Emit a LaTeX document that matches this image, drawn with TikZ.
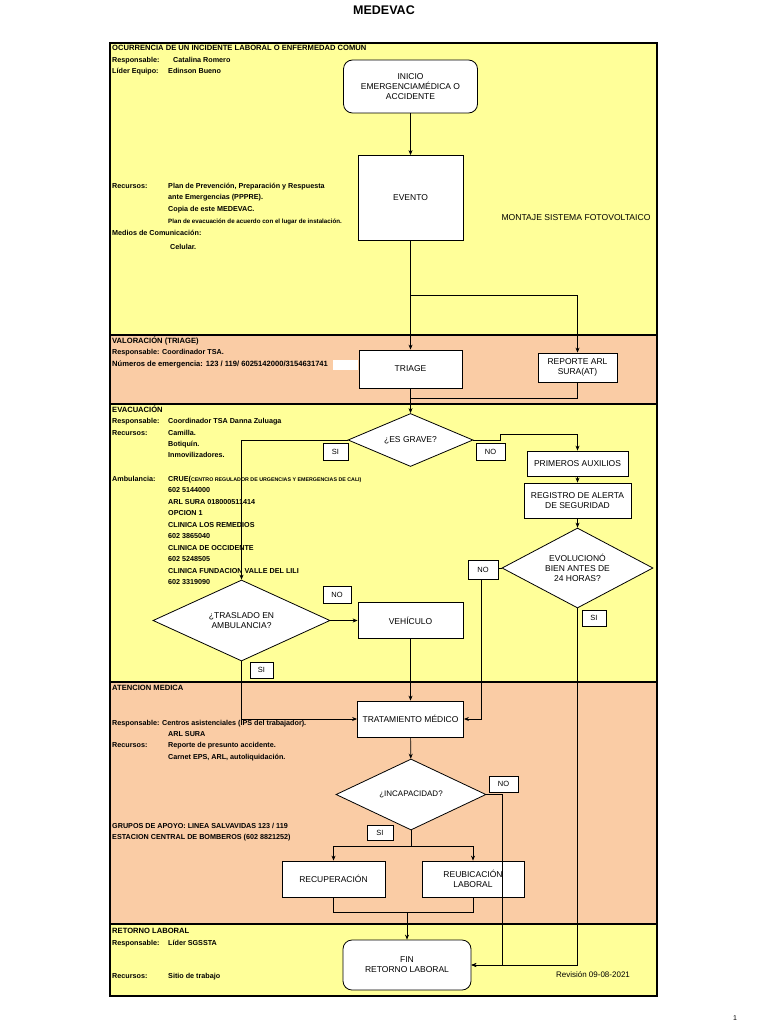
\documentclass[tikz,border=0pt]{standalone}
\usepackage{fontspec}
\setmainfont{Liberation Sans}
\usetikzlibrary{shapes.geometric,arrows.meta}
\definecolor{bandY}{RGB}{255,255,153}
\definecolor{bandO}{RGB}{250,204,165}
\begin{document}
\begin{tikzpicture}[x=1pt,y=-1pt,
  proc/.style={draw, line width=0.8pt, fill=white, align=center, inner sep=0pt,
    font=\fontsize{8.5}{10}\selectfont},
  term/.style={proc, rounded corners=9pt},
  dec/.style={draw, line width=0.8pt, fill=white, diamond, inner sep=0pt, align=center,
    font=\fontsize{8.5}{10}\selectfont},
  tag/.style={draw, line width=0.7pt, fill=white, inner sep=0pt,
    font=\fontsize{7.5}{9}\selectfont},
  txt/.style={anchor=base west, inner sep=0pt, font=\fontsize{7.2}{9}\selectfont\bfseries},
  head/.style={txt, font=\fontsize{7.6}{9}\selectfont\bfseries},
  small/.style={anchor=base west, inner sep=0pt, font=\fontsize{6.2}{8}\selectfont\bfseries},
  arr/.style={-{Stealth[length=5pt,width=4pt]}, line width=0.7pt},
  ln/.style={line width=0.7pt},
  band/.style={draw=black, line width=1.2pt}]
\useasboundingbox (0,0) rectangle (768,1024);
\fill[white] (0,0) rectangle (768,1024);
% bands
\fill[bandY] (110,43) rectangle (657,335);
\fill[bandO] (110,335) rectangle (657,404);
\fill[bandY] (110,404) rectangle (657,682);
\fill[bandO] (110,682) rectangle (657,924);
\fill[bandY] (110,924) rectangle (657,996);
\draw[band] (110,335) -- (657,335);
\draw[band] (110,404) -- (657,404);
\draw[band] (110,682) -- (657,682);
\draw[band] (110,924) -- (657,924);
\draw[line width=1.6pt] (110,43) rectangle (657,996);

\node[font=\fontsize{12.5}{14}\selectfont\bfseries] (title) at (384,10) {MEDEVAC};
\node[font=\fontsize{7}{8}\selectfont] (pageno) at (735,1018) {1};

% ---- section 1 text
\node[head] (h1) at (112,51) {OCURRENCIA DE UN INCIDENTE LABORAL O ENFERMEDAD COMÚN};
\node[txt] (r1a) at (112,62.5) {Responsable:};
\node[txt] (r1b) at (173,62.5) {Catalina Romero};
\node[txt] (l1a) at (112,73.5) {Líder Equipo:};
\node[txt] (l1b) at (168,73.5) {Edinson Bueno};
\node[txt] (rc1a) at (112,188.5) {Recursos:};
\node[txt] (rc1b) at (168,188.5) {Plan de Prevención, Preparación y Respuesta};
\node[txt] (rc1c) at (168,200) {ante Emergencias (PPPRE).};
\node[txt] (rc1d) at (168,212) {Copia de este MEDEVAC.};
\node[small] (rc1e) at (168,224) {Plan de evacuación de acuerdo con el lugar de instalación.};
\node[txt] (m1a) at (112,235.5) {Medios de Comunicación:};
\node[txt] (m1b) at (170,249.5) {Celular.};
\node[font=\fontsize{8.6}{10}\selectfont] (montaje) at (576,218) {MONTAJE SISTEMA FOTOVOLTAICO};

% ---- section 2 text
\node[head] (h2) at (112,343) {VALORACIÓN (TRIAGE)};
\node[txt] (r2a) at (112,354) {Responsable:};
\node[txt] (r2b) at (162,354) {Coordinador TSA.};
\node[txt, font=\fontsize{7.6}{9}\selectfont\bfseries] (n2) at (112,366) {Números de emergencia: 123 / 119/ 6025142000/3154631741};
\fill[white] (333,360) rectangle (358,370);

% ---- section 3 text
\node[head] (h3) at (112,412.5) {EVACUACIÓN};
\node[txt] (r3a) at (112,423.5) {Responsable:};
\node[txt] (r3b) at (168,423.5) {Coordinador TSA Danna Zuluaga};
\node[txt] (rc3a) at (112,435.5) {Recursos:};
\node[txt] (rc3b) at (168,435.5) {Camilla.};
\node[txt] (rc3c) at (168,446.5) {Botiquín.};
\node[txt] (rc3d) at (168,457.5) {Inmovilizadores.};
\node[txt] (am3a) at (112,481) {Ambulancia:};
\node[txt] (am3b) at (168,481) {CRUE(\fontsize{5.3}{6}\selectfont CENTRO REGULADOR DE URGENCIAS Y EMERGENCIAS DE CALI)};
\node[txt] (am3c) at (168,492.5) {602 5144000};
\node[txt] (am3d) at (168,504) {ARL SURA 018000511414};
\node[txt] (am3e) at (168,515.5) {OPCION 1};
\node[txt] (am3f) at (168,527) {CLINICA LOS REMEDIOS};
\node[txt] (am3g) at (168,538.5) {602 3865040};
\node[txt] (am3h) at (168,550) {CLINICA DE OCCIDENTE};
\node[txt] (am3i) at (168,561.5) {602 5248505};
\node[txt] (am3j) at (168,573) {CLINICA FUNDACION VALLE DEL LILI};
\node[txt] (am3k) at (168,584.5) {602 3319090};

% ---- section 4 text
\node[head] (h4) at (112,690) {ATENCION MEDICA};
\node[txt] (r4a) at (112,725) {Responsable:};
\node[txt] (r4b) at (162,725) {Centros asistenciales (IPS del trabajador).};
\node[txt] (r4c) at (168,736) {ARL SURA};
\node[txt] (rc4a) at (112,747.5) {Recursos:};
\node[txt] (rc4b) at (168,747.5) {Reporte de presunto accidente.};
\node[txt] (rc4c) at (168,759) {Carnet EPS, ARL, autoliquidación.};
\node[txt] (g4a) at (112,828) {GRUPOS DE APOYO: LINEA SALVAVIDAS 123 / 119};
\node[txt] (g4b) at (112,839) {ESTACION CENTRAL DE BOMBEROS (602 8821252)};

% ---- section 5 text
\node[head] (h5) at (112,933) {RETORNO LABORAL};
\node[txt] (r5a) at (112,945.5) {Responsable:};
\node[txt] (r5b) at (168,945.5) {Líder SGSSTA};
\node[txt] (rc5a) at (112,978) {Recursos:};
\node[txt] (rc5b) at (168,978) {Sitio de trabajo};
\node[font=\fontsize{8}{9}\selectfont] (rev) at (593,975) {Revisión 09-08-2021};

% ---- flow nodes
\node[term, minimum width=134pt, minimum height=53pt] (inicio) at (410.5,86.5) {INICIO\\EMERGENCIAMÉDICA O\\ACCIDENTE};
\node[proc, minimum width=105pt, minimum height=85pt] (evento) at (410.5,198) {EVENTO};
\node[proc, minimum width=103pt, minimum height=38pt] (triage) at (410.5,369) {TRIAGE};
\node[proc, minimum width=79pt, minimum height=29pt] (reporte) at (577.5,367.5) {REPORTE ARL\\SURA(AT)};
\node[dec, minimum width=125pt, minimum height=53pt, aspect=2.36] (grave) at (410.5,440) {¿ES GRAVE?};
\node[proc, minimum width=101pt, minimum height=25pt] (primeros) at (577.5,463.5) {PRIMEROS AUXILIOS};
\node[proc, minimum width=107pt, minimum height=35pt] (registro) at (577.5,500.5) {REGISTRO DE ALERTA\\DE SEGURIDAD};
\node[dec, minimum width=151pt, minimum height=80pt, aspect=1.89] (evol) at (577.5,568) {EVOLUCIONÓ\\BIEN ANTES DE\\24 HORAS?};
\node[dec, minimum width=177pt, minimum height=81pt, aspect=2.19] (traslado) at (241.5,620.5) {¿TRASLADO EN\\AMBULANCIA?};
\node[proc, minimum width=105pt, minimum height=36pt] (vehiculo) at (410.5,620.5) {VEHÍCULO};
\node[proc, minimum width=106pt, minimum height=36pt] (trat) at (410.5,719) {TRATAMIENTO MÉDICO};
\node[dec, minimum width=150pt, minimum height=71pt, aspect=2.11, font=\fontsize{8}{9}\selectfont] (incap) at (411,794.5) {¿INCAPACIDAD?};
\node[proc, minimum width=103pt, minimum height=36pt] (recup) at (333.5,879) {RECUPERACIÓN};
\node[proc, minimum width=102pt, minimum height=36pt] (reubic) at (473,879) {REUBICACIÓN\\LABORAL};
\node[term, minimum width=128pt, minimum height=50pt] (fin) at (407,965) {FIN\\RETORNO LABORAL};

% ---- junction coordinates
\coordinate (j1) at (410.5,295);
\coordinate (j2) at (410.5,398);
\coordinate (j3) at (500,434);
\coordinate (j4) at (481.7,568);
\coordinate (j5) at (333.5,846);
\coordinate (j6) at (473,846);
\coordinate (j7) at (407,912);
\coordinate (j8) at (502,794.5);

% ---- connectors
\draw[arr] (inicio) -- (evento);
\draw[arr] (evento) -- (triage);
\draw[arr] (j1) -| (reporte);
\draw[ln] (reporte.south) |- (j2);
\draw[arr] (triage) -- (grave);
\draw[arr] (grave.west) -| (traslado.north);
\draw[arr] (grave.east) -- (grave.east -| j3) -- (j3) -| (primeros.north);
\draw[arr] (primeros) -- (registro);
\draw[arr] (registro) -- (evol);
\draw[arr] (evol.west) -- (j4) |- (trat.east);
\draw[arr] (evol.south) |- (fin.east);
\draw[arr] (traslado.east) -- (vehiculo.west);
\draw[arr] (traslado.south) |- (trat.west);
\draw[arr] (vehiculo) -- (trat);
\draw[arr] (trat) -- (incap);
\draw[ln] (incap.south) -- (incap.south |- j5);
\draw[ln] (j5) -- (j6);
\draw[arr] (j5) -- (recup.north);
\draw[arr] (j6) -- (reubic.north);
\draw[ln] (recup.south) |- (j7);
\draw[ln] (reubic.south) |- (j7);
\draw[arr] (j7) -- (fin.north);
\draw[arr] (incap.east) -- (j8) |- (fin.east);

% ---- decision tags
\node[tag, minimum width=25pt, minimum height=17pt] (tgsi) at (335.5,451.5) {SI};
\node[tag, minimum width=29pt, minimum height=17pt] (tgno) at (490.5,451.5) {NO};
\node[tag, minimum width=30pt, minimum height=19pt] (tevno) at (483,569.5) {NO};
\node[tag, minimum width=24pt, minimum height=16pt] (tevsi) at (594,618) {SI};
\node[tag, minimum width=28pt, minimum height=17pt] (ttrno) at (337,594.5) {NO};
\node[tag, minimum width=23pt, minimum height=16pt] (ttrsi) at (261.5,670) {SI};
\node[tag, minimum width=29pt, minimum height=16pt] (tinno) at (503.5,784) {NO};
\node[tag, minimum width=26pt, minimum height=15pt] (tinsi) at (380,832.5) {SI};
\end{tikzpicture}
\end{document}
